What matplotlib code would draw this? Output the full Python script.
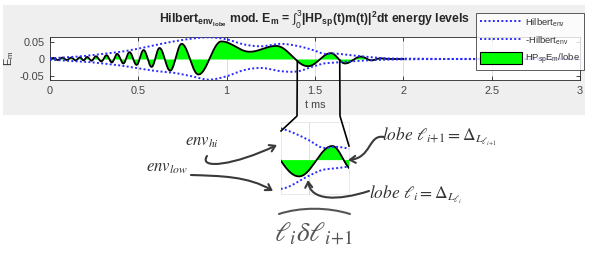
import numpy as np
import matplotlib
matplotlib.use("Agg")
import matplotlib.pyplot as plt
from matplotlib.patches import Rectangle, Patch, FancyArrowPatch
from matplotlib.path import Path
from matplotlib.lines import Line2D

plt.rcParams['font.family'] = ['Liberation Sans', 'DejaVu Sans']
plt.rcParams['mathtext.fontset'] = 'custom'
plt.rcParams['mathtext.rm'] = 'Liberation Sans'
plt.rcParams['mathtext.it'] = 'Liberation Sans:italic'
plt.rcParams['mathtext.bf'] = 'Liberation Sans:bold'

# ---- data ----
# signal extrema (t in ms, value)
sig_t = [0.0, 0.02, 0.045, 0.07, 0.095, 0.12, 0.145, 0.17, 0.19, 0.21, 0.235, 0.26, 0.29,
         0.32, 0.35, 0.38, 0.415, 0.45, 0.49, 0.53, 0.575, 0.62, 0.68, 0.745, 0.84, 0.97,
         1.13, 1.28, 1.46, 1.59, 1.67, 1.76, 1.82, 1.87, 1.92, 2.0]
sig_v = [0.0, 0.003, -0.003, 0.004, -0.003, 0.004, -0.004, 0.005, -0.004, 0.006, -0.005, 0.008,
         -0.007, 0.011, -0.010, 0.015, -0.013, 0.020, -0.017, 0.026, -0.023, 0.032, -0.034,
         0.044, -0.045, 0.051, 0.021, 0.038, -0.021, 0.017, -0.013, 0.007, -0.004, 0.002,
         0.0, 0.0]
# envelopes
env_t = [0.0, 0.1, 0.2, 0.3, 0.4, 0.5, 0.6, 0.7, 0.8, 0.9, 1.0, 1.1, 1.2, 1.3, 1.4, 1.5,
         1.55, 1.6, 1.7, 1.8, 1.9, 2.0, 2.5, 3.0]
env_hi = [0.002, 0.005, 0.009, 0.015, 0.021, 0.030, 0.041, 0.051, 0.059, 0.063, 0.057, 0.042,
          0.037, 0.044, 0.038, 0.024, 0.015, 0.016, 0.011, 0.006, 0.002, 0.001, 0.0005, 0.0005]
env_lo = [-0.002, -0.005, -0.008, -0.013, -0.019, -0.027, -0.035, -0.040, -0.050, -0.060,
          -0.050, -0.032, -0.026, -0.035, -0.036, -0.020, -0.013, -0.011, -0.007, -0.004,
          -0.002, -0.001, -0.0005, -0.0005]
xticks = [0, 0.5, 1, 1.5, 2, 2.5, 3]
xticklabels = ['0', '0.5', '1', '1.5', '2', '2.5', '3']
yticks = [-0.05, 0, 0.05]
yticklabels = ['-0.05', '0', '0.05']
zoom_t = [1.40, 1.64]


def cos_interp(tk, vk, t):
    tk = np.asarray(tk); vk = np.asarray(vk)
    i = np.clip(np.searchsorted(tk, t, side='right') - 1, 0, len(tk) - 2)
    s = (t - tk[i]) / (tk[i + 1] - tk[i])
    w = (1 - np.cos(np.pi * s)) / 2
    return vk[i] + (vk[i + 1] - vk[i]) * w


def hermite(tk, vk, t):
    tk = np.asarray(tk); vk = np.asarray(vk)
    m = np.gradient(vk, tk)
    i = np.clip(np.searchsorted(tk, t, side='right') - 1, 0, len(tk) - 2)
    h = tk[i + 1] - tk[i]
    s = (t - tk[i]) / h
    h00 = 2 * s**3 - 3 * s**2 + 1
    h10 = s**3 - 2 * s**2 + s
    h01 = -2 * s**3 + 3 * s**2
    h11 = s**3 - s**2
    return h00 * vk[i] + h10 * h * m[i] + h01 * vk[i + 1] + h11 * h * m[i + 1]


t_sig = np.linspace(0, 2.0, 2000)
y_sig = cos_interp(sig_t, sig_v, t_sig)
t_env = np.linspace(0, 3.0, 1500)
y_hi = hermite(env_t, env_hi, t_env)
y_lo = hermite(env_t, env_lo, t_env)

W, H = 591, 256
fig = plt.figure(figsize=(W / 100, H / 100), dpi=100, facecolor='white')


def fx(px):
    return px / W


def fy(py):
    return (H - py) / H


# gray figure panel
fig.add_artist(Rectangle((fx(3), fy(115)), fx(582), 110 / H, transform=fig.transFigure,
                         facecolor='#efefef', edgecolor='none', zorder=-10))

GREEN = '#00ff00'
BLUE = '#2a2aff'


def draw(ax, lw_sig=1.3, lw_env=1.4):
    ax.fill_between(t_sig, y_sig, 0, color=GREEN, linewidth=0, zorder=2)
    ax.plot(t_sig, y_sig, color='black', lw=lw_sig, zorder=3)
    ax.plot(t_env, y_hi, color=BLUE, ls=(0, (1, 1.2)), lw=lw_env, zorder=4)
    ax.plot(t_env, y_lo, color=BLUE, ls=(0, (1, 1.2)), lw=lw_env, zorder=4)


ax = fig.add_axes([fx(50), fy(80), fx(530), (80 - 37.3) / H])
ax.set_zorder(1)
ax.set_facecolor('white')
draw(ax)
ax.set_xlim(0, 3)
ax.set_ylim(-0.061, 0.063)
ax.set_xticks(xticks)
ax.set_xticklabels(xticklabels)
ax.set_yticks(yticks)
ax.set_yticklabels(yticklabels)
ax.tick_params(direction='in', length=3, width=0.6, top=True, right=True,
               labelsize=7.8, colors='#262626', labelcolor='#444444', pad=4)
ax.grid(True, axis='x', color='#d8d8d8', lw=0.6)
for s in ax.spines.values():
    s.set_color('#262626'); s.set_linewidth(0.6)
ax.set_ylabel(r'E$_\mathrm{m}$', fontsize=8, color='#333333', labelpad=3)
ax.set_xlabel('t ms', fontsize=7.8, color='#444444', labelpad=3)

fig.text(fx(315), fy(20),
         r'$\mathbf{Hilbert}_{\mathbf{env}_{\mathbf{lobe}}}$ mod. $\mathbf{E}_{\mathbf{m}}$ = '
         r'$\int_0^3$|$\mathbf{HP}_{\mathbf{sp}}$(t)m(t)|$^{\mathbf{2}}$dt energy levels',
         ha='center', va='center', fontsize=8.8, fontweight='bold', color='#262626')

handles = [Line2D([], [], color=BLUE, ls=(0, (1, 1.2)), lw=1.4),
           Line2D([], [], color=BLUE, ls=(0, (1, 1.2)), lw=1.4),
           Patch(facecolor=GREEN, edgecolor='black', lw=0.8)]
labels = [r'Hilbert$_\mathrm{env}$', r'-Hilbert$_\mathrm{env}$', r'HP$_\mathrm{sp}$E$_\mathrm{m}$/lobe']
leg = fig.legend(handles, labels, loc='upper right', bbox_to_anchor=(fx(584), fy(13)),
                 fontsize=6.8, frameon=True, fancybox=False, edgecolor='#333333',
                 borderaxespad=0, handlelength=4.5, handleheight=1.6, labelspacing=0.5,
                 borderpad=0.4, handletextpad=0.3)
leg.get_frame().set_linewidth(0.7)
leg.set_zorder(5)
for txt in leg.get_texts():
    txt.set_color('#333333')

# inset zoom
axi = fig.add_axes([fx(281), fy(194), fx(68), 72 / H])
axi.set_zorder(1)
draw(axi, lw_sig=1.3, lw_env=1.4)
axi.set_xlim(1.39, 1.655)
axi.set_ylim(-0.043, 0.047)
axi.set_xticks([1.5]); axi.set_yticks([])
axi.tick_params(direction='in', length=2, labelbottom=False, colors='#cccccc')
axi.grid(True, axis='x', color='#dddddd', lw=0.6)
for s in axi.spines.values():
    s.set_color('#e6e6e6'); s.set_linewidth(0.6)
axi.set_facecolor('white')

# callout lines from main axes to inset
fig.canvas.draw()
inv = fig.transFigure.inverted()
tops = []
for tz in zoom_t:
    yz = float(cos_interp(sig_t, sig_v, np.array([tz]))[0])
    px = ax.transData.transform((tz, yz))
    tops.append(inv.transform(px))
lines_px = [[(None, None), (297, 116), (281, 131)], [(None, None), (340, 116), (349, 146)]]
for top, pts in zip(tops, lines_px):
    xs = [top[0], fx(pts[1][0]), fx(pts[2][0])]
    ys = [top[1], fy(pts[1][1]), fy(pts[2][1])]
    fig.add_artist(Line2D(xs, ys, transform=fig.transFigure, color='black', lw=1.2, zorder=10))

# annotations
TC = '#333333'
fig.text(fx(185), fy(143), r'$env_{hi}$', fontsize=12, color=TC, math_fontfamily='stix',
         ha='left', va='center')
fig.text(fx(146), fy(169), r'$env_{low}$', fontsize=12, color=TC, math_fontfamily='stix',
         ha='left', va='center')
fig.text(fx(382), fy(137), r'$lobe\ \ell_{i\!+\!1} = \Delta_{L_{\ell_{i\!+\!1}}}$', fontsize=12.5,
         color=TC, math_fontfamily='stix', ha='left', va='center')
fig.text(fx(369), fy(195), r'$lobe\ \ell_{i} = \Delta_{L_{\ell_{i}}}$', fontsize=12.5,
         color=TC, math_fontfamily='stix', ha='left', va='center')
fig.text(fx(314), fy(233), r'$\ell_i\delta\ell_{i\!+\!1}$', fontsize=19.5, color='#555555',
         math_fontfamily='stix', ha='center', va='center')


def curve(p0, c1, c2, p3, arrow=True, color='#3a3a3a'):
    verts = [(fx(p[0]), fy(p[1])) for p in (p0, c1, c2, p3)]
    path = Path(verts, [Path.MOVETO, Path.CURVE4, Path.CURVE4, Path.CURVE4])
    style = '->,head_length=4,head_width=2.5' if arrow else '-'
    fig.add_artist(FancyArrowPatch(path=path, transform=fig.transFigure, arrowstyle=style,
                                   color=color, lw=1.5, zorder=11))


curve((207, 156), (198, 170), (235, 165), (277, 145))
curve((191, 175), (220, 176), (248, 176), (273, 191))
curve((384, 137), (368, 134), (372, 158), (348, 160))
curve((369, 191), (338, 201), (310, 201), (308, 180))
curve((279, 214), (300, 207), (328, 207), (350, 214), arrow=False, color='#555555')

fig.savefig('out.png', dpi=100, facecolor='white')
